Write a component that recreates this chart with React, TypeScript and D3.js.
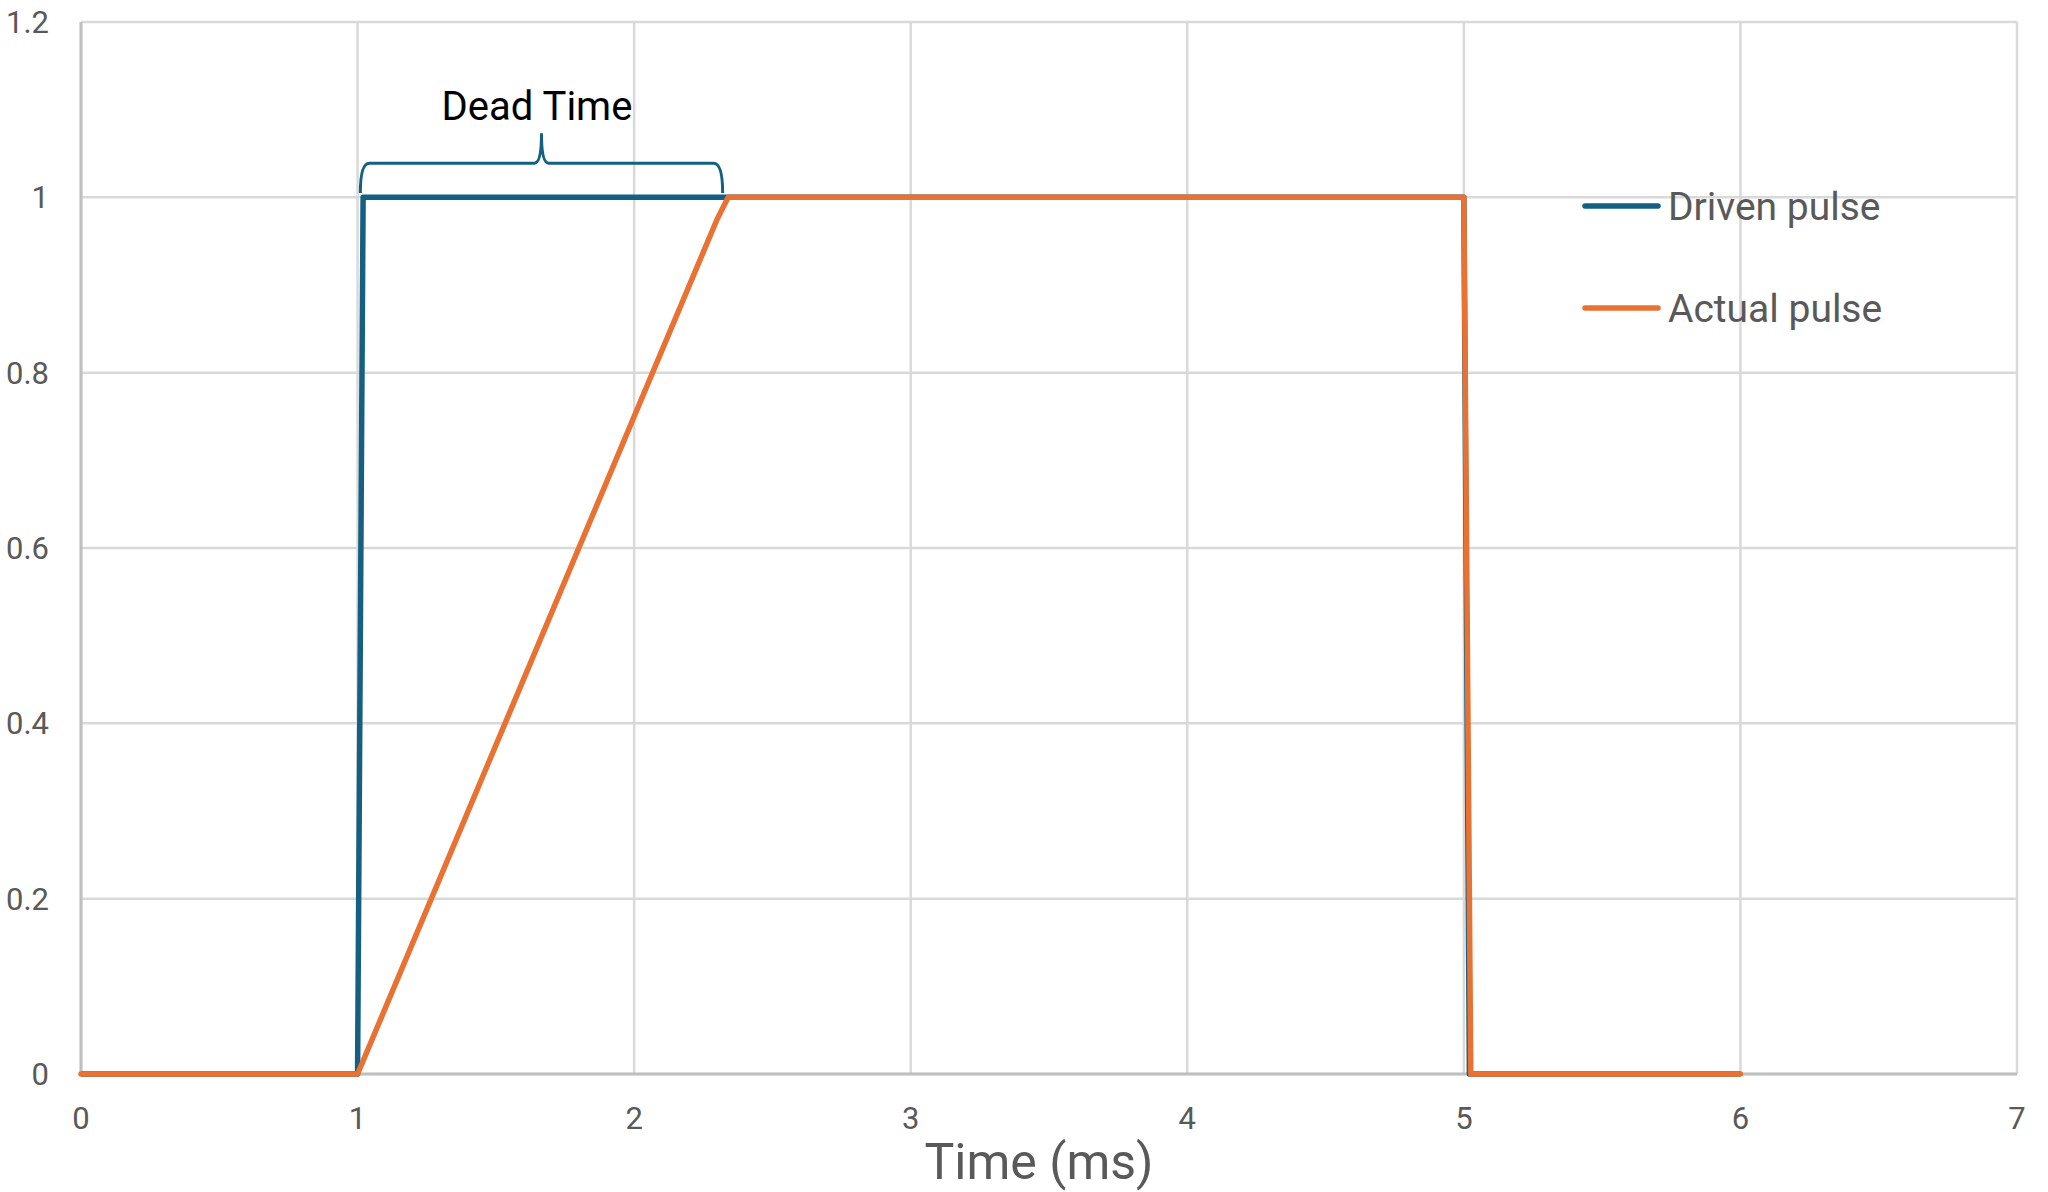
import React from "react";
import * as d3 from "d3";

// time in ms, value normalised 0..1
const drivenT = [0, 1, 1.02, 5, 5.02, 6];
const drivenV = [0, 0, 1, 1, 0, 0];
const actualT = [0, 1, 2.3, 2.34, 5, 5.025, 6];
const actualV = [0, 0, 0.975, 1, 1, 0, 0];

const xTicks = [0, 1, 2, 3, 4, 5, 6, 7];
const yTicks = [0, 0.2, 0.4, 0.6, 0.8, 1, 1.2];
const seriesNames = ["Driven pulse", "Actual pulse"];
const seriesColors = ["#156082", "#E97132"];

// dead time bracket: from driven rise to actual reaching 1
const deadStart = 1.01;
const deadEnd = 2.32;

const W = 2048;
const H = 1192;
const margin = { top: 22, right: 31, bottom: 118, left: 81 };
const font = "Roboto, 'Open Sans', sans-serif";

const App: React.FC = () => {
  const x = d3
    .scaleLinear()
    .domain([0, 7])
    .range([margin.left, W - margin.right]);
  const y = d3
    .scaleLinear()
    .domain([0, 1.2])
    .range([H - margin.bottom, margin.top]);

  const line = d3
    .line<[number, number]>()
    .x((d) => x(d[0]))
    .y((d) => y(d[1]));

  const driven: [number, number][] = drivenT.map((t, i) => [t, drivenV[i]]);
  const actual: [number, number][] = actualT.map((t, i) => [t, actualV[i]]);

  const x1 = x(deadStart);
  const x2 = x(deadEnd);
  const xm = (x1 + x2) / 2;
  const yb = y(1.005);
  const yh = y(1.039);
  const yt = y(1.073);
  const brace = `M${x1},${yb} Q${x1},${yh} ${x1 + 9},${yh} L${xm - 7},${yh} Q${xm},${yh} ${xm},${yt} Q${xm},${yh} ${xm + 7},${yh} L${x2 - 9},${yh} Q${x2},${yh} ${x2},${yb}`;

  const legendY = [206, 308];

  return (
    <svg
      width={W}
      height={H}
      viewBox={`0 0 ${W} ${H}`}
      style={{ position: "absolute", left: 0, top: 0, background: "#fff" }}
    >
      {/* grid */}
      {yTicks.map((t) => (
        <line
          key={"gy" + t}
          x1={x(0)}
          x2={x(7)}
          y1={y(t)}
          y2={y(t)}
          stroke="#d9d9d9"
          strokeWidth={2.5}
        />
      ))}
      {xTicks.map((t) => (
        <line
          key={"gx" + t}
          x1={x(t)}
          x2={x(t)}
          y1={y(0)}
          y2={y(1.2)}
          stroke="#d9d9d9"
          strokeWidth={2.5}
        />
      ))}
      {/* axes */}
      <line x1={x(0)} x2={x(0)} y1={y(0)} y2={y(1.2)} stroke="#bfbfbf" strokeWidth={3} />
      <line x1={x(0)} x2={x(7)} y1={y(0)} y2={y(0)} stroke="#bfbfbf" strokeWidth={3} />

      {/* tick labels */}
      {yTicks.map((t) => (
        <text
          key={"ly" + t}
          x={49}
          y={y(t)}
          dy="0.35em"
          textAnchor="end"
          fontFamily={font}
          fontSize={31}
          fill="#595959"
        >
          {t}
        </text>
      ))}
      {xTicks.map((t) => (
        <text
          key={"lx" + t}
          x={x(t)}
          y={1129}
          textAnchor="middle"
          fontFamily={font}
          fontSize={31}
          fill="#595959"
        >
          {t}
        </text>
      ))}
      <text
        x={1039}
        y={1179}
        textAnchor="middle"
        fontFamily={font}
        fontSize={50}
        fill="#595959"
      >
        Time (ms)
      </text>

      {/* series */}
      <path
        d={line(driven) ?? ""}
        fill="none"
        stroke={seriesColors[0]}
        strokeWidth={5.5}
        strokeLinejoin="round"
      />
      <path
        d={line(actual) ?? ""}
        fill="none"
        stroke={seriesColors[1]}
        strokeWidth={5.5}
        strokeLinejoin="round"
        strokeLinecap="round"
      />

      {/* dead time annotation */}
      <path d={brace} fill="none" stroke={seriesColors[0]} strokeWidth={3} />
      <text
        x={537}
        y={y(1.088)}
        textAnchor="middle"
        fontFamily={font}
        fontSize={40}
        fill="#000"
      >
        Dead Time
      </text>

      {/* legend */}
      {seriesNames.map((name, i) => (
        <g key={name}>
          <line
            x1={1585}
            x2={1658}
            y1={legendY[i]}
            y2={legendY[i]}
            stroke={seriesColors[i]}
            strokeWidth={5.5}
            strokeLinecap="round"
          />
          <text
            x={1668}
            y={legendY[i]}
            dy="0.35em"
            fontFamily={font}
            fontSize={39}
            fill="#595959"
          >
            {name}
          </text>
        </g>
      ))}
    </svg>
  );
};

export default App;
